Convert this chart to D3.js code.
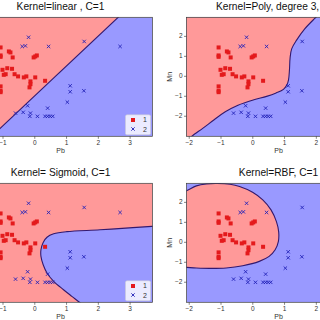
<!DOCTYPE html>
<html><head><meta charset="utf-8">
<script src="https://cdn.jsdelivr.net/npm/d3@7"></script>
<style>html,body{margin:0;padding:0;background:#fff;overflow:hidden}</style>
</head><body><svg id="c" width="320" height="320"></svg>
<script>
// ---- data ----
const class1 = [[-1.06,1.42],[-1.06,1.02],[-1.06,0.95],[-0.80,1.22],[-0.75,1.17],[-0.68,0.92],
  [-0.02,0.92],[0.03,0.97],[0.08,1.02],[-1.00,0.30],[-0.85,0.38],[-0.70,0.35],[-0.96,0.05],
  [-0.90,0.08],[-0.62,0.08],[-0.51,-0.03],[-0.33,-0.08],[-0.25,-0.03],[0.03,-0.08],[-0.12,-0.28],
  [0.34,-0.25],[-0.12,-0.42],[-0.15,-0.58],[-1.06,-0.53],[-1.06,-0.75],[-1.06,-0.82]];
const class2 = [[-0.18,1.93],[-0.38,1.47],[-0.28,1.50],[0.45,1.47],[1.57,1.72],[2.70,1.47],
  [1.13,-0.50],[1.13,-0.80],[1.56,-0.75],[1.04,-1.32],[-0.21,-1.50],[0.42,-1.62],[-0.59,-1.87],
  [-0.35,-1.83],[-0.12,-1.87],[-0.14,-2.03],[0.10,-2.03],[0.34,-2.03],[0.42,-2.03],[0.50,-2.03],[0.58,-2.03]];
const xTicks = [-2,-1,0,1,2,3];
const yTicks = [-2,-1,0,1,2];
const titles = ["Kernel=linear , C=1","Kernel=Poly, degree 3, C=1","Kernel= Sigmoid, C=1","Kernel=RBF, C=1"];
const legendLabels = ["1","2"];
const xLabel = "Pb", yLabel = "Mn";
const linearBoundary = [[-1.06,-2.61],[2.64,2.93]];
const polyBoundary = [[-1.95,-3.1],[-1.88,-3.0],[-1.55,-2.62],[-1.2,-2.2],[-0.85,-1.8],[-0.45,-1.47],
  [0.05,-1.2],[0.45,-1.03],[0.75,-0.86],[0.98,-0.68],[1.09,-0.45],[1.14,-0.2],[1.17,0.3],[1.19,0.9],
  [1.24,1.35],[1.4,1.8],[1.65,2.35],[1.95,2.85],[2.05,3.0]];
const sigmoidBoundary = [[4.5,0.85],[3.1,0.71],[2.07,0.6],[1.02,0.51],[0.61,0.4],[0.4,0.23],[0.28,-0.03],
  [0.21,-0.4],[0.21,-0.73],[0.28,-1.15],[0.4,-1.56],[0.61,-1.98],[0.92,-2.4],[1.18,-2.73],[1.42,-3.03],[1.55,-3.2]];
const rbfBoundary = [[-2.2,2.5],[-2.07,2.56],[-1.76,2.8],[-1.44,2.9],[-1.1,2.92],[-0.7,2.88],[-0.4,2.77],
  [0.01,2.48],[0.33,2.1],[0.59,1.6],[0.76,1.01],[0.83,0.51],[0.82,0.01],[0.72,-0.4],[0.53,-0.73],
  [0.22,-0.98],[-0.3,-1.2],[-0.82,-1.31],[-1.34,-1.33],[-1.76,-1.31],[-2.07,-1.28],[-2.2,-1.27]];
const xDomain = [-2.07, 3.72], yDomain = [-3.03, 2.93];

// ---- layout / style ----
const RED_BG = "#ff9999", BLUE_BG = "#9999ff", LINE = "#33196e";
const RED_PT = "#e41a1c", BLUE_PT = "#2323b8";
const FONT = "'Liberation Sans', Arial, sans-serif";
const W = 184, H = 119;
const panels = [
  {left:-31.5, top:17.3, kind:"linear", legend:true},
  {left:186.5, top:17.3, kind:"poly", legend:false},
  {left:-31.5, top:183.3, kind:"sigmoid", legend:true},
  {left:186.5, top:183.3, kind:"rbf", legend:false}
];
const svg = d3.select("#c");
svg.append("rect").attr("width",320).attr("height",320).attr("fill","#fff");
const fmt = d => d < 0 ? "\u2212" + Math.abs(d) : String(d);

panels.forEach((p, i) => {
  const x = d3.scaleLinear().domain(xDomain).range([0, W]);
  const y = d3.scaleLinear().domain(yDomain).range([H, 0]);
  const g = svg.append("g").attr("transform", `translate(${p.left},${p.top})`);
  const cid = "clip" + i;
  g.append("clipPath").attr("id", cid).append("rect").attr("width", W).attr("height", H);
  const area = g.append("g").attr("clip-path", `url(#${cid})`);
  const curve = d3.line().x(d => x(d[0])).y(d => y(d[1])).curve(d3.curveCatmullRom.alpha(0.5));
  const straight = d3.line().x(d => x(d[0])).y(d => y(d[1]));
  let bg, fg, regionPath, linePath;
  if (p.kind === "linear") {
    const [a, b] = linearBoundary;
    const m = (b[1]-a[1])/(b[0]-a[0]);
    const at = xv => [xv, a[1] + m*(xv - a[0])];
    const p0 = at(-6), p1 = at(7);
    bg = BLUE_BG; fg = RED_BG;
    regionPath = straight([p0, p1, [-6, p1[1]]]) + "Z";
    linePath = straight([p0, p1]);
  } else if (p.kind === "poly") {
    bg = BLUE_BG; fg = RED_BG;
    const last = polyBoundary[polyBoundary.length-1], first = polyBoundary[0];
    linePath = curve(polyBoundary);
    regionPath = linePath + "L" + [x(last[0]), y(9)] + "L" + [x(-9), y(9)] + "L" + [x(-9), y(-9)] + "L" + [x(first[0]), y(-9)] + "Z";
  } else if (p.kind === "sigmoid") {
    bg = RED_BG; fg = BLUE_BG;
    const last = sigmoidBoundary[sigmoidBoundary.length-1], first = sigmoidBoundary[0];
    linePath = curve(sigmoidBoundary);
    regionPath = linePath + "L" + [x(last[0]), y(-9)] + "L" + [x(9), y(-9)] + "L" + [x(9), y(first[1])] + "Z";
  } else {
    bg = BLUE_BG; fg = RED_BG;
    linePath = curve(rbfBoundary);
    regionPath = linePath + "Z";
  }
  area.append("rect").attr("width", W).attr("height", H).attr("fill", bg);
  area.append("path").attr("d", regionPath).attr("fill", fg);
  area.append("path").attr("d", linePath).attr("fill", "none").attr("stroke", LINE).attr("stroke-width", 1.1);

  // points
  area.selectAll(".sq").data(class1).join("rect")
    .attr("x", d => x(d[0]) - 2).attr("y", d => y(d[1]) - 2)
    .attr("width", 4).attr("height", 4).attr("fill", RED_PT);
  const cr = 1.7;
  area.selectAll(".cx").data(class2).join("path")
    .attr("d", d => `M${x(d[0])-cr},${y(d[1])-cr}L${x(d[0])+cr},${y(d[1])+cr}M${x(d[0])-cr},${y(d[1])+cr}L${x(d[0])+cr},${y(d[1])-cr}`)
    .attr("stroke", BLUE_PT).attr("stroke-width", 0.9).attr("fill", "none");

  // frame
  g.append("rect").attr("width", W).attr("height", H).attr("fill", "none").attr("stroke", "#3a3a3a").attr("stroke-width", 0.7);

  // axes
  const ax = g.append("g").attr("transform", `translate(0,${H})`)
    .call(d3.axisBottom(x).tickValues(xTicks).tickSize(2.5).tickPadding(1.5).tickFormat(fmt));
  const ay = g.append("g").call(d3.axisLeft(y).tickValues(yTicks).tickSize(2.5).tickPadding(1.5).tickFormat(fmt));
  [ax, ay].forEach(a => {
    a.select(".domain").remove();
    a.selectAll("line").attr("stroke", "#333").attr("stroke-width", 0.6);
    a.selectAll("text").attr("font-family", FONT).attr("font-size", 6.5).attr("fill", "#333");
  });

  g.append("text").attr("x", W/2).attr("y", H + 17).attr("text-anchor", "middle")
    .attr("font-family", FONT).attr("font-size", 7).attr("fill", "#333").text(xLabel);
  g.append("text").attr("transform", `translate(-15,${H/2}) rotate(-90)`).attr("text-anchor", "middle")
    .attr("font-family", FONT).attr("font-size", 7).attr("fill", "#333").text(yLabel);
  g.append("text").attr("x", W/2).attr("y", -7.5).attr("text-anchor", "middle")
    .attr("font-family", FONT).attr("font-size", 10.2).attr("fill", "#111").text(titles[i]);

  if (p.legend) {
    const lw = 25, lh = 20;
    const lg = g.append("g").attr("transform", `translate(${W - lw - 2},${H - lh - 1.5})`);
    lg.append("rect").attr("width", lw).attr("height", lh).attr("rx", 1.5)
      .attr("fill", "#fff").attr("fill-opacity", 0.8).attr("stroke", "#ccc").attr("stroke-width", 0.5);
    lg.append("rect").attr("x", 5.5).attr("y", 3.2).attr("width", 4).attr("height", 4).attr("fill", RED_PT);
    const cx = 7.5, cy = 14.2;
    lg.append("path").attr("d", `M${cx-cr},${cy-cr}L${cx+cr},${cy+cr}M${cx-cr},${cy+cr}L${cx+cr},${cy-cr}`)
      .attr("stroke", BLUE_PT).attr("stroke-width", 0.9);
    lg.selectAll(".lt").data(legendLabels).join("text")
      .attr("x", 19.5).attr("y", (d, j) => 7.6 + j*9.2).attr("text-anchor", "middle")
      .attr("font-family", FONT).attr("font-size", 7).attr("fill", "#333").text(d => d);
  }
});
</script></body></html>
